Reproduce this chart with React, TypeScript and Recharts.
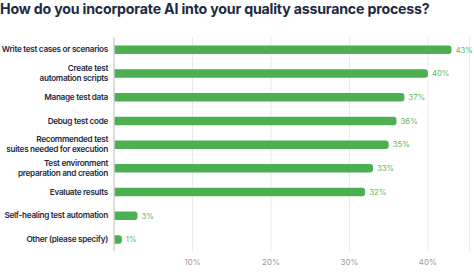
import React from "react";
import { BarChart, Bar, XAxis, YAxis, CartesianGrid, LabelList } from "recharts";

const categories = [
  "Write test cases or scenarios",
  "Create test\nautomation scripts",
  "Manage test data",
  "Debug test code",
  "Recommended test\nsuites needed for execution",
  "Test environment\npreparation and creation",
  "Evaluate results",
  "Self-healing test automation",
  "Other (please specify)",
];
const percentages = [43, 40, 37, 36, 35, 33, 32, 3, 1];
const xTicks = [10, 20, 30, 40];
const title = "How do you incorporate AI into your quality assurance process?";

const data = categories.map((c, i) => ({ name: c, value: percentages[i] }));

const NAVY = "#1d2b42";
const GREEN = "#4caf50";
const LABEL_GREEN = "#62b865";
const FONT = "Inter, 'DejaVu Sans', sans-serif";

const CategoryTick = (props: any) => {
  const { x, y, payload } = props;
  const lines = String(payload.value).split("\n");
  const lh = 10;
  const startY = y - ((lines.length - 1) * lh) / 2;
  return (
    <text
      x={x}
      y={startY}
      textAnchor="end"
      dominantBaseline="central"
      fill={NAVY}
      fontSize={8.2}
      fontWeight={600}
      fontFamily={FONT}
      letterSpacing={-0.3}
    >
      {lines.map((l, i) => (
        <tspan key={i} x={x} y={startY + i * lh} dominantBaseline="central">
          {l}
        </tspan>
      ))}
    </text>
  );
};

export default function App() {
  return (
    <div style={{ position: "absolute", left: 0, top: 0, width: 474, height: 280, background: "#fff" }}>
      <div
        style={{
          position: "absolute",
          left: 0,
          top: 0,
          fontFamily: FONT,
          fontWeight: 700,
          fontSize: 14.2,
          letterSpacing: -0.2,
          color: NAVY,
          whiteSpace: "nowrap",
          lineHeight: "17px",
        }}
      >
        {title}
      </div>
      <div style={{ position: "absolute", left: 0, top: 0 }}>
        <BarChart
          width={474}
          height={280}
          data={data}
          layout="vertical"
          margin={{ top: 37.5, right: 4.5, bottom: 14.5, left: 0 }}
        >
          <CartesianGrid horizontal={false} vertical={true} stroke="#ebebeb" />
          <XAxis
            type="number"
            domain={[0, 45.3]}
            ticks={xTicks}
            axisLine={false}
            tickLine={false}
            height={14.5}
            tickFormatter={(v: number) => `${v}%`}
            tick={{ fill: "#999999", fontSize: 8, fontFamily: FONT }}
            tickMargin={2}
          />
          <YAxis
            type="category"
            dataKey="name"
            width={114}
            axisLine={{ stroke: "#d4d4d4", strokeWidth: 1.5 }}
            tickLine={false}
            tickSize={0}
            tickMargin={6}
            tick={<CategoryTick />}
            interval={0}
          />
          <Bar dataKey="value" fill={GREEN} barSize={8.5} radius={[0, 3, 3, 0]} isAnimationActive={false}>
            <LabelList
              dataKey="value"
              position="right"
              offset={4}
              formatter={(v: any) => `${v}%`}
              fill={LABEL_GREEN}
              fontSize={7.8}
              fontFamily={FONT}
            />
          </Bar>
        </BarChart>
      </div>
    </div>
  );
}
